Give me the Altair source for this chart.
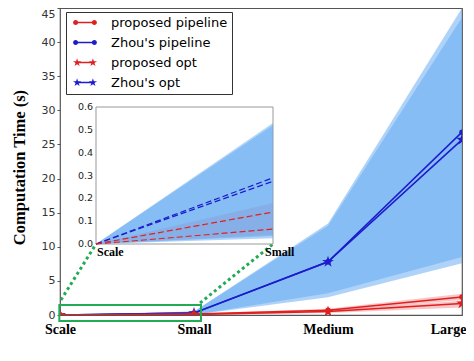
import altair as alt
import pandas as pd

# ---------------- data ----------------
categories = ["Scale", "Small", "Medium", "Large"]
series_names = ["proposed pipeline", "Zhou's pipeline", "proposed opt", "Zhou's opt"]

proposed_pipeline_mean = [0.0, 0.14, 0.70, 2.65]
proposed_pipeline_low = [0.0, 0.10, 0.50, 2.20]
proposed_pipeline_high = [0.0, 0.18, 0.90, 3.10]

zhou_pipeline_mean = [0.0, 0.29, 7.8, 26.8]
zhou_pipeline_low = [0.0, 0.035, 2.6, 7.6]
zhou_pipeline_high = [0.0, 0.53, 13.4, 45.0]

proposed_opt_mean = [0.0, 0.065, 0.50, 1.70]
proposed_opt_low = [0.0, 0.04, 0.30, 1.10]
proposed_opt_high = [0.0, 0.10, 0.70, 2.10]

zhou_opt_mean = [0.0, 0.275, 7.8, 25.7]
zhou_opt_low = [0.0, 0.025, 3.2, 8.5]
zhou_opt_high = [0.0, 0.52, 13.1, 43.6]

y_ticks = [0, 5, 10, 15, 20, 25, 30, 35, 40, 45]
inset_y_ticks = [0.0, 0.1, 0.2, 0.3, 0.4, 0.5, 0.6]
inset_categories = ["Scale", "Small"]

# zoom box and connector annotation (main data coordinates)
zoom_box_x = [-0.005, 1.052]
zoom_box_y = [-0.88, 1.47]
connector_from_x = [0.007, 1.045]
connector_from_y = [2.2, 1.76]
connector_to_x = [0.269, 1.59]
connector_to_y = [10.41, 10.41]

# ---------------- styles ----------------
RED = "#e02020"
BLUE = "#1c1ccc"
RED_BAND = "#f07070"
BLUE_BAND = "#5fa8f1"
GREEN = "#22ab55"
line_colors = [RED, BLUE, RED, BLUE]
band_colors = [RED_BAND, BLUE_BAND, RED_BAND, BLUE_BAND]
band_opacity = [0.4, 0.5, 0.4, 0.5]

STAR_PTS = [(0, -1), (0.223, -0.307), (0.951, -0.309), (0.361, 0.117), (0.588, 0.809),
            (0, 0.38), (-0.588, 0.809), (-0.361, 0.117), (-0.951, -0.309), (-0.223, -0.307)]


def star_at(cx, r):
    return "M" + " L".join(f"{cx + px * r:.3f},{py * r:.3f}" for px, py in STAR_PTS) + " Z"


def circle_at(cx, r):
    return (f"M{cx - r:.3f},0 A{r},{r} 0 1,1 {cx + r:.3f},0 "
            f"A{r},{r} 0 1,1 {cx - r:.3f},0 Z")


STAR = star_at(0, 1)
marker_shapes = ["circle", "circle", STAR, STAR]
marker_sizes = [30, 30, 150, 150]

LEG_LINE = "M-0.6,-0.055 L0.6,-0.055 L0.6,0.055 L-0.6,0.055 Z"
LEG_CIRCLE = circle_at(-0.78, 0.21) + " " + circle_at(0.78, 0.21) + " " + LEG_LINE
LEG_STAR = star_at(-0.66, 0.36) + " " + star_at(0.66, 0.36) + " " + LEG_LINE
legend_paths = [LEG_CIRCLE, LEG_CIRCLE, LEG_STAR, LEG_STAR]

# ---------------- tables ----------------
means = [proposed_pipeline_mean, zhou_pipeline_mean, proposed_opt_mean, zhou_opt_mean]
lows = [proposed_pipeline_low, zhou_pipeline_low, proposed_opt_low, zhou_opt_low]
highs = [proposed_pipeline_high, zhou_pipeline_high, proposed_opt_high, zhou_opt_high]

rows = []
for s, m, lo, hi in zip(series_names, means, lows, highs):
    for i, c in enumerate(categories):
        rows.append(dict(series=s, cat=c, idx=i, mean=m[i], low=lo[i], high=hi[i]))
df = pd.DataFrame(rows)
inset_df = df[df["idx"] < len(inset_categories)]

# ---------------- main panel ----------------
last = len(categories) - 1
label_expr = "[" + ",".join(f"'{c}'" for c in categories) + "][datum.value]"
x_axis = alt.Axis(values=list(range(len(categories))), labelExpr=label_expr, title=None,
                  labelFont="Liberation Serif", labelFontWeight="bold", labelFontSize=14,
                  labelColor="black", ticks=False, domain=False, grid=False,
                  labelPadding=7, labelFlush=False, labelOverlap=False,
                  labelAlign={"expr": f"datum.value == {last} ? 'right' : 'center'"},
                  labelOffset={"expr": f"datum.value == {last} ? 4 : 0"})
y_axis = alt.Axis(values=y_ticks, title="Computation Time (s)", grid=False, domain=False,
                  labelFont="DejaVu Sans", labelFontSize=11, labelColor="#333",
                  labelBaseline={"expr": f"datum.value == {y_ticks[-1]} ? 'top' : 'middle'"},
                  ticks=True, tickSize=3, tickColor="#555", labelPadding=2,
                  titleFont="Liberation Serif", titleFontWeight="bold", titleFontSize=16.5,
                  titleColor="black", titleAngle=270, titleX=-33, titleY=159,
                  titleBaseline="bottom", titleAlign="center")
x_scale = alt.Scale(domain=[0, last], nice=False, zero=False)
y_scale = alt.Scale(domain=[0, 45], nice=False)

base = alt.Chart(df)
main_layers = []
band_order = [0, 2, 1, 3]
line_order = [1, 3, 0, 2]
for k in band_order:
    s = series_names[k]
    main_layers.append(
        base.transform_filter(alt.datum.series == s)
        .mark_area(color=band_colors[k], opacity=band_opacity[k], clip=True)
        .encode(x=alt.X("idx:Q", scale=x_scale, axis=x_axis),
                y=alt.Y("low:Q", scale=y_scale, axis=y_axis),
                y2="high:Q")
    )
for k in line_order:
    s = series_names[k]
    main_layers.append(
        base.transform_filter(alt.datum.series == s)
        .mark_line(color=line_colors[k], strokeWidth=1.5, clip=True)
        .encode(x=alt.X("idx:Q", scale=x_scale, axis=x_axis),
                y=alt.Y("mean:Q", scale=y_scale, axis=y_axis))
    )
    main_layers.append(
        base.transform_filter(alt.datum.series == s)
        .mark_point(color=line_colors[k], shape=marker_shapes[k], size=marker_sizes[k],
                    filled=True, opacity=1, clip=True)
        .encode(x=alt.X("idx:Q", scale=x_scale, axis=x_axis),
                y=alt.Y("mean:Q", scale=y_scale, axis=y_axis))
    )

box_df = pd.DataFrame({"x0": [zoom_box_x[0]], "x1": [zoom_box_x[1]],
                       "y0": [zoom_box_y[0]], "y1": [zoom_box_y[1]]})
main_layers.append(
    alt.Chart(box_df).mark_rect(fillOpacity=0, stroke=GREEN, strokeWidth=2)
    .encode(x=alt.X("x0:Q", scale=x_scale, axis=x_axis), x2="x1:Q",
            y=alt.Y("y0:Q", scale=y_scale, axis=y_axis), y2="y1:Q")
)
conn_df = pd.DataFrame({"x0": connector_from_x, "y0": connector_from_y,
                        "x1": connector_to_x, "y1": connector_to_y})
main_layers.append(
    alt.Chart(conn_df).mark_rule(color=GREEN, strokeWidth=3, strokeDash=[3, 3])
    .encode(x=alt.X("x0:Q", scale=x_scale, axis=x_axis), x2="x1:Q",
            y=alt.Y("y0:Q", scale=y_scale, axis=y_axis), y2="y1:Q")
)

# legend layer (invisible marks, only provides legend)
leg_df = pd.DataFrame({"label": series_names})
legend = alt.Legend(title=None, orient="none", legendX=6, legendY=4, padding=4,
                    symbolOffset=3, clipHeight=13, rowPadding=6, labelOffset=14,
                    symbolSize=576, labelFont="DejaVu Sans", labelFontSize=13,
                    labelColor="black", strokeColor="#333", fillColor="white",
                    symbolOpacity=1, symbolStrokeWidth=0, labelLimit=300, cornerRadius=0)
main_layers.append(
    alt.Chart(leg_df).mark_point(filled=True, opacity=0)
    .encode(color=alt.Color("label:N", scale=alt.Scale(domain=series_names, range=line_colors),
                            legend=legend),
            shape=alt.Shape("label:N", scale=alt.Scale(domain=series_names, range=legend_paths),
                            legend=legend))
)

main = alt.layer(*main_layers)

# ---------------- inset panel ----------------
ix_scale = alt.Scale(domain=[0, len(inset_categories) - 1], range=[36, 213], nice=False, zero=False)
iy_scale = alt.Scale(domain=[inset_y_ticks[0], inset_y_ticks[-1]], range=[236, 99], nice=False)

frame_df = pd.DataFrame({"x0": [0], "x1": [len(inset_categories) - 1],
                         "y0": [inset_y_ticks[0]], "y1": [inset_y_ticks[-1]]})
inset_layers = [
    alt.Chart(frame_df).mark_rect(fill="white", stroke="#999", strokeWidth=1)
    .encode(x=alt.X("x0:Q", scale=ix_scale, axis=None), x2="x1:Q",
            y=alt.Y("y0:Q", scale=iy_scale, axis=None), y2="y1:Q")
]
ibase = alt.Chart(inset_df)
for k in band_order:
    s = series_names[k]
    inset_layers.append(
        ibase.transform_filter(alt.datum.series == s)
        .mark_area(color=band_colors[k], opacity=band_opacity[k])
        .encode(x=alt.X("idx:Q", scale=ix_scale, axis=None),
                y=alt.Y("low:Q", scale=iy_scale, axis=None), y2="high:Q")
    )
for k in line_order:
    s = series_names[k]
    inset_layers.append(
        ibase.transform_filter(alt.datum.series == s)
        .mark_line(color=line_colors[k], strokeWidth=1.2, strokeDash=[6, 3])
        .encode(x=alt.X("idx:Q", scale=ix_scale, axis=None),
                y=alt.Y("mean:Q", scale=iy_scale, axis=None))
    )

itick_df = pd.DataFrame({"x0": [0] * len(inset_y_ticks), "v": inset_y_ticks,
                         "label": [f"{v:.1f}" for v in inset_y_ticks]})
inset_layers.append(
    alt.Chart(itick_df).mark_text(align="right", baseline="middle", dx=-3,
                                  font="DejaVu Sans", fontSize=9.5, color="#222")
    .encode(x=alt.X("x0:Q", scale=ix_scale, axis=None),
            y=alt.Y("v:Q", scale=iy_scale, axis=None), text="label:N")
)
icat_df = pd.DataFrame({"idx": list(range(len(inset_categories))), "label": inset_categories,
                        "y0": [0.0] * len(inset_categories)})
for lab, dx in zip(inset_categories, [1, -8]):
    inset_layers.append(
        alt.Chart(icat_df).transform_filter(alt.datum.label == lab)
        .mark_text(align="left", baseline="top", dy=3, dx=dx, font="Liberation Serif",
                   fontWeight="bold", fontSize=12, color="black")
        .encode(x=alt.X("idx:Q", scale=ix_scale, axis=None),
                y=alt.Y("y0:Q", scale=iy_scale, axis=None), text="label:N")
    )

inset = alt.layer(*inset_layers)

chart = (
    alt.layer(main, inset)
    .resolve_scale(x="independent", y="independent")
    .properties(width=402, height=307,
                autosize=alt.AutoSizeParams(type="none"),
                padding={"left": 52, "top": 0, "right": 4, "bottom": 38})
    .configure_view(stroke="#555", strokeWidth=1.2)
)

chart.save("out.html", embed_options={"renderer": "svg", "actions": False})
